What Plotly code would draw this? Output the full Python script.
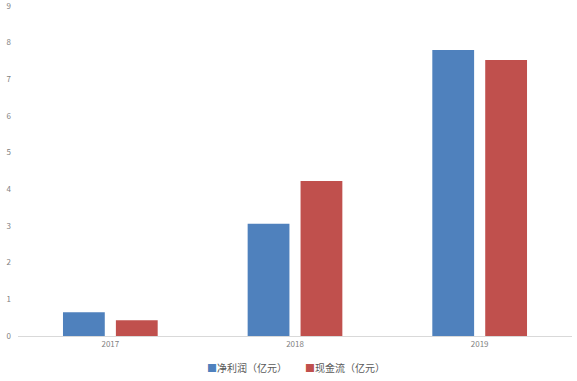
import plotly.graph_objects as go

years = ["2017", "2018", "2019"]
net_profit = [0.65, 3.06, 7.8]
cash_flow = [0.43, 4.23, 7.53]
series_names = ["净利润（亿元）", "现金流（亿元）"]
series_colors = ["#4F81BD", "#C0504D"]
tick_vals = [0, 1, 2, 3, 4, 5, 6, 7, 8, 9]

fig = go.Figure()
fig.add_trace(go.Bar(x=years, y=net_profit, name=series_names[0],
                     marker=dict(color=series_colors[0], line=dict(width=0))))
fig.add_trace(go.Bar(x=years, y=cash_flow, name=series_names[1],
                     marker=dict(color=series_colors[1], line=dict(width=0))))

# Legend drawn as text annotations (compact Excel-like legend)
legend_x = [0.338, 0.515]
for name, color, lx in zip(series_names, series_colors, legend_x):
    fig.add_annotation(
        xref="paper", yref="paper", x=lx, y=-0.095, xanchor="left", yanchor="middle",
        text=f"<span style='color:{color}'>■</span>{name}", showarrow=False,
        font=dict(size=10, color="#595959"),
    )

fig.update_layout(
    width=577, height=381,
    margin=dict(l=18, r=5, t=6, b=45, autoexpand=False),
    paper_bgcolor="white", plot_bgcolor="white",
    barmode="group", bargap=0.427, bargroupgap=0.21,
    font=dict(family="Noto Sans CJK SC, sans-serif", size=8, color="#7f7f7f"),
    showlegend=False,
    xaxis=dict(showline=True, linecolor="#d9d9d9", linewidth=1, ticks="",
               tickfont=dict(size=8, color="#7f7f7f"), showgrid=False,
               automargin=False),
    yaxis=dict(range=[0, 9], tickvals=tick_vals, showgrid=False, zeroline=False,
               showline=False, ticks="", tickfont=dict(size=8, color="#7f7f7f"),
               ticklabelstandoff=6, automargin=False, ticklabeloverflow="allow"),
)

fig.write_html("out.html", config={"displayModeBar": False},
               post_script="document.body.style.margin='0px';")
